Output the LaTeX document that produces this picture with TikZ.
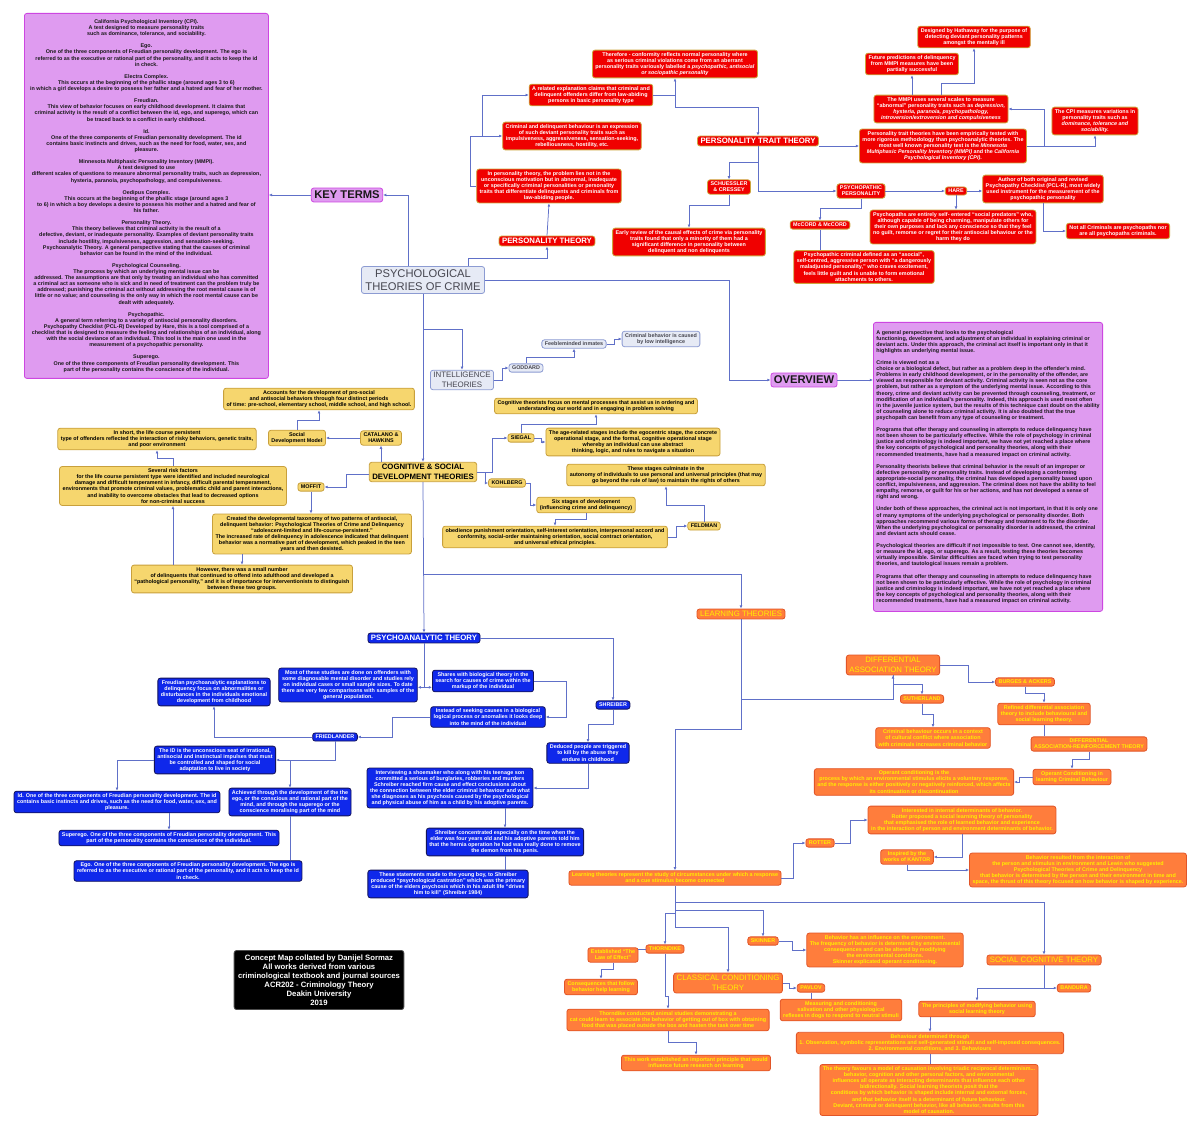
\documentclass[tikz,border=0pt]{standalone}
\usepackage{fontspec}
\setmainfont{Liberation Sans}
\usetikzlibrary{arrows.meta}

\definecolor{linkblue}{RGB}{96,112,200}
\definecolor{violetfill}{RGB}{223,155,240}
\definecolor{violetedge}{RGB}{205,70,225}
\definecolor{redfill}{RGB}{240,0,0}
\definecolor{rededge}{RGB}{205,165,60}
\definecolor{yellowfill}{RGB}{246,214,110}
\definecolor{yellowedge}{RGB}{200,160,60}
\definecolor{bluefill}{RGB}{15,40,235}
\definecolor{blueedge}{RGB}{20,20,90}
\definecolor{orangefill}{RGB}{255,125,60}
\definecolor{orangeedge}{RGB}{225,85,40}
\definecolor{orangetext}{RGB}{255,238,0}
\definecolor{greyfill}{RGB}{230,234,245}
\definecolor{greyedge}{RGB}{140,155,210}
\definecolor{greytext}{RGB}{70,70,80}

\newcommand{\mapsmall}{\fontsize{5.4}{6.1}\selectfont\bfseries}
\newcommand{\maptitle}{\fontsize{7.8}{9.5}\selectfont\bfseries}

\begin{document}
\begin{tikzpicture}[x=1pt, y=-1pt,
        mapbox/.style={rectangle, rounded corners=2.5pt, line width=0.8pt, align=center, inner xsep=3pt, inner ysep=2.2pt, font=\mapsmall},
        redbox/.style={mapbox, fill=redfill, draw=rededge, text=white},
        redtitle/.style={redbox, font=\maptitle},
        yellowbox/.style={mapbox, fill=yellowfill, draw=yellowedge, text=black},
        yellowtitle/.style={yellowbox, font=\maptitle},
        bluebox/.style={mapbox, fill=bluefill, draw=blueedge, text=white},
        bluetitle/.style={bluebox, font=\maptitle},
        orangebox/.style={mapbox, fill=orangefill, draw=orangeedge, text=orangetext},
        orangetitle/.style={orangebox, font=\fontsize{7.8}{10}\selectfont},
        greybox/.style={mapbox, fill=greyfill, draw=greyedge, text=greytext},
        greytitle/.style={greybox, font=\fontsize{7.9}{9.5}\selectfont},
        violetbox/.style={mapbox, fill=violetfill, draw=violetedge, text=black!90},
        violettitle/.style={violetbox, font=\fontsize{11.2}{12}\selectfont\bfseries, inner ysep=3pt},
        creditbox/.style={mapbox, fill=black, draw=black!70, text=white, font=\fontsize{7.7}{9.1}\selectfont\bfseries, inner xsep=4pt, inner ysep=4pt},
        conn/.style={-{Latex[length=3.2pt,width=2.8pt]}, draw=linkblue, line width=0.75pt},
        link/.style={draw=linkblue, line width=0.75pt}
    ]
        \useasboundingbox (0,0) rectangle (1200,1131);
        \fill[white] (0,0) rectangle (1200,1131);

        % Main node and key terms
        \node[greybox, font=\fontsize{11.2}{13}\selectfont, inner xsep=4pt, inner ysep=3pt] (main) at (423,280) {PSYCHOLOGICAL\\THEORIES OF CRIME};
        \node[violettitle] (keyterms) at (347,195) {KEY TERMS};
        \node[violetbox, anchor=north west, minimum width=244pt, minimum height=365pt] (keybox) at (24,13) {California Psychological Inventory (CPI).\\
A test designed to measure personality traits\\
such as dominance, tolerance, and sociability.\\[6.1pt]
Ego.\\
One of the three components of Freudian personality development. The ego is\\
referred to as the executive or rational part of the personality, and it acts to keep the id\\
in check.\\[6.1pt]
Electra Complex.\\
This occurs at the beginning of the phallic stage (around ages 3 to 6)\\
in which a girl develops a desire to possess her father and a hatred and fear of her mother.\\[6.1pt]
Freudian.\\
This view of behavior focuses on early childhood development. It claims that\\
criminal activity is the result of a conflict between the id, ego, and superego, which can\\
be traced back to a conflict in early childhood.\\[6.1pt]
Id.\\
One of the three components of Freudian personality development. The id\\
contains basic instincts and drives, such as the need for food, water, sex, and\\
pleasure.\\[6.1pt]
Minnesota Multiphasic Personality Inventory (MMPI).\\
A test designed to use\\
different scales of questions to measure abnormal personality traits, such as depression,\\
hysteria, paranoia, psychopathology, and compulsiveness.\\[6.1pt]
Oedipus Complex.\\
This occurs at the beginning of the phallic stage (around ages 3\\
to 6) in which a boy develops a desire to possess his mother and a hatred and fear of\\
his father.\\[6.1pt]
Personality Theory.\\
This theory believes that criminal activity is the result of a\\
defective, deviant, or inadequate personality. Examples of deviant personality traits\\
include hostility, impulsiveness, aggression, and sensation-seeking.\\
Psychoanalytic Theory. A general perspective stating that the causes of criminal\\
behavior can be found in the mind of the individual.\\[6.1pt]
Psychological Counseling.\\
The process by which an underlying mental issue can be\\
addressed. The assumptions are that only by treating an individual who has committed\\
a criminal act as someone who is sick and in need of treatment can the problem truly be\\
addressed; punishing the criminal act without addressing the root mental cause is of\\
little or no value; and counseling is the only way in which the root mental cause can be\\
dealt with adequately.\\[6.1pt]
Psychopathic.\\
A general term referring to a variety of antisocial personality disorders.\\
Psychopathy Checklist (PCL-R) Developed by Hare, this is a tool comprised of a\\
checklist that is designed to measure the feeling and relationships of an individual, along\\
with the social deviance of an individual. This tool is the main one used in the\\
measurement of a psychopathic personality.\\[6.1pt]
Superego.\\
One of the three components of Freudian personality development. This\\
part of the personality contains the conscience of the individual.};

        % Personality theory
        \node[redbox] (therefore) at (675,64) {Therefore - conformity reflects normal personality where\\as serious criminal violations come from an aberrant\\personality traits variously labelled a \textit{psychopathic, antisocial}\\\textit{or sociopathic personality}};
        \node[redbox] (related) at (591,95) {A related explanation claims that criminal and\\delinquent offenders differ from law-abiding\\persons in basic personality type};
        \node[redbox] (express) at (572,136) {Criminal and delinquent behaviour is an expression\\of such deviant personality traits such as\\impulsiveness, aggressiveness, sensation-seeking,\\rebelliousness, hostility, etc.};
        \node[redbox] (problem) at (549,186) {In personality theory, the problem lies not in the\\unconscious motivation but in abnormal, inadequate\\or specifically criminal personalities or personality\\traits that differentiate delinquents and criminals from\\law-abiding people.};
        \node[redtitle] (pttheory) at (547,241) {PERSONALITY THEORY};
        \node[redtitle] (ptt) at (758,141) {PERSONALITY TRAIT THEORY};
        \node[redbox] (schuessler) at (729,187) {SCHUESSLER\\\& CRESSEY};
        \node[redbox] (early) at (689,242) {Early review of the causal effects of crime via personality\\traits found that only a minority of them had a\\significant difference in personality between\\delinquent and non delinquents};
        \node[redbox] (hathaway) at (974,37) {Designed by Hathaway for the purpose of\\detecting deviant personality patterns\\amongst the mentally ill};
        \node[redbox] (future) at (912,64) {Future predictions of delinquency\\from MMPI measures have been\\partially successful};
        \node[redbox] (mmpi) at (941,109) {The MMPI uses several scales to measure\\``abnormal'' personality traits such as \textit{depression,}\\\textit{hysteria, paranoia, psychopathology,}\\\textit{introversion/extroversion and compulsiveness}};
        \node[redbox] (cpi) at (1095,121) {The CPI measures variations in\\personality traits such as\\\textit{dominance, tolerance and}\\\textit{sociability.}};
        \node[redbox] (tested) at (943,146) {Personality trait theories have been empirically tested with\\more rigorous methodology than psychoanalytic theories. The\\most well known personality test is the \textit{Minnesota}\\\textit{Multiphasic Personality Inventory (MMPI)} and the \textit{California}\\\textit{Psychological Inventory (CPI)}.};
        \node[redbox] (psycho) at (861,191) {PSYCHOPATHIC\\PERSONALITY};
        \node[redbox] (hare) at (956,191) {HARE};
        \node[redbox] (author) at (1043,189) {Author of both original and revised\\Psychopathy Checklist (PCL-R), most widely\\used instrument for the measurement of the\\psychopathic personality};
        \node[redbox] (predators) at (953,227) {Psychopaths are entirely self- entered ``social predators'' who,\\although capable of being charming, manipulate others for\\their own purposes and lack any conscience so that they feel\\no guilt, remorse or regret for their antisocial behaviour or the\\harm they do};
        \node[redbox] (notall) at (1118,231) {Not all Criminals are psychopaths nor\\are all psychopaths criminals.};
        \node[redbox] (mccord) at (820,225) {McCORD \& McCORD};
        \node[redbox] (asocial) at (864,267) {Psychopathic criminal defined as an ``asocial'',\\self-centred, aggressive person with ``a dangerously\\maladjusted personality,'' who craves excitement,\\feels little guilt and is unable to form emotional\\attachments to others.};

        % Intelligence theories
        \node[greytitle] (intel) at (462,380) {INTELLIGENCE\\THEORIES};
        \node[greybox] (goddard) at (526,368) {GODDARD};
        \node[greybox] (feeble) at (574,344) {Feebleminded inmates};
        \node[greybox] (lowint) at (661,339) {Criminal behavior is caused\\by low intelligence};

        % Cognitive and social development
        \node[yellowtitle] (cog) at (423,472) {COGNITIVE \& SOCIAL\\DEVELOPMENT THEORIES};
        \node[yellowbox] (siegal) at (521,438) {SIEGAL};
        \node[yellowbox] (cogfocus) at (596,406) {Cognitive theorists focus on mental processes that assist us in ordering and\\understanding our world and in engaging in problem solving};
        \node[yellowbox] (agestages) at (633,442) {The age-related stages include the egocentric stage, the concrete\\operational stage, and the formal, cognitive operational stage\\whereby an individual can use abstract\\thinking, logic, and rules to navigate a situation};
        \node[yellowbox] (kohlberg) at (507,483) {KOHLBERG};
        \node[yellowbox] (sixstages) at (586,505) {Six stages of development\\(influencing crime and delinquency)};
        \node[yellowbox] (obedience) at (555,537) {obedience punishment orientation, self-interest orientation, interpersonal accord and\\conformity, social-order maintaining orientation, social contract orientation,\\and universal ethical principles.};
        \node[yellowbox] (feldman) at (704,526) {FELDMAN};
        \node[yellowbox] (culminate) at (666,475) {These stages culminate in the\\autonomy of individuals to use personal and universal principles (that may\\go beyond the rule of law) to maintain the rights of others};
        \node[yellowbox] (catalano) at (381,438) {CATALANO \&\\HAWKINS};
        \node[yellowbox] (socdev) at (297,438) {Social\\Development Model};
        \node[yellowbox] (accounts) at (319,399) {Accounts for the development of pro-social\\and antisocial behaviors through four distinct periods\\of time: pre-school, elementary school, middle school, and high school.};
        \node[yellowbox] (moffit) at (311,487) {MOFFIT};
        \node[yellowbox] (created) at (312,534) {Created the developmental taxonomy of two patterns of antisocial,\\delinquent behavior: Psychological Theories of Crime and Delinquency\\``adolescent-limited and life-course-persistent.''\\The increased rate of delinquency in adolescence indicated that delinquent\\behavior was a normative part of development, which peaked in the teen\\years and then desisted.};
        \node[yellowbox] (however) at (242,579) {However, there was a small number\\of delinquents that continued to offend into adulthood and developed a\\``pathological personality,'' and it is of importance for interventionists to distinguish\\between these two groups.};
        \node[yellowbox] (risk) at (173,486) {Several risk factors\\for the life course persistent type were identified and included neurological\\damage and difficult temperament in infancy, difficult parental temperament,\\environments that promote criminal values, problematic child and parent interactions,\\and inability to overcome obstacles that lead to decreased options\\for non-criminal success};
        \node[yellowbox] (inshort) at (157,439) {In short, the life course persistent\\type of offenders reflected the interaction of risky behaviors, genetic traits,\\and poor environment};

        % Overview
        \node[violettitle] (overview) at (804,380) {OVERVIEW};
        \node[violetbox, align=left, anchor=north west, minimum height=289pt] (ovbox) at (873,322) {A general perspective that looks to the psychological\\
functioning, development, and adjustment of an individual in explaining criminal or\\
deviant acts. Under this approach, the criminal act itself is important only in that it\\
highlights an underlying mental issue.\\[6.1pt]
Crime is viewed not as a\\
choice or a biological defect, but rather as a problem deep in the offender's mind.\\
Problems in early childhood development, or in the personality of the offender, are\\
viewed as responsible for deviant activity. Criminal activity is seen not as the core\\
problem, but rather as a symptom of the underlying mental issue. According to this\\
theory, crime and deviant activity can be prevented through counseling, treatment, or\\
modification of an individual's personality. Indeed, this approach is used most often\\
in the juvenile justice system, but the results of this technique cast doubt on the ability\\
of counseling alone to reduce criminal activity. It is also doubted that the true\\
psychopath can benefit from any type of counseling or treatment.\\[6.1pt]
Programs that offer therapy and counseling in attempts to reduce delinquency have\\
not been shown to be particularly effective. While the role of psychology in criminal\\
justice and criminology is indeed important, we have not yet reached a place where\\
the key concepts of psychological and personality theories, along with their\\
recommended treatments, have had a measured impact on criminal activity.\\[6.1pt]
Personality theorists believe that criminal behavior is the result of an improper or\\
defective personality or personality traits. Instead of developing a conforming\\
appropriate-social personality, the criminal has developed a personality based upon\\
conflict, impulsiveness, and aggression. The criminal does not have the ability to feel\\
empathy, remorse, or guilt for his or her actions, and has not developed a sense of\\
right and wrong.\\[6.1pt]
Under both of these approaches, the criminal act is not important, in that it is only one\\
of many symptoms of the underlying psychological or personality disorder. Both\\
approaches recommend various forms of therapy and treatment to fix the disorder.\\
When the underlying psychological or personality disorder is addressed, the criminal\\
and deviant acts should cease.\\[6.1pt]
Psychological theories are difficult if not impossible to test. One cannot see, identify,\\
or measure the id, ego, or superego. As a result, testing these theories becomes\\
virtually impossible. Similar difficulties are faced when trying to test personality\\
theories, and tautological issues remain a problem.\\[6.1pt]
Programs that offer therapy and counseling in attempts to reduce delinquency have\\
not been shown to be particularly effective. While the role of psychology in criminal\\
justice and criminology is indeed important, we have not yet reached a place where\\
the key concepts of psychological and personality theories, along with their\\
recommended treatments, have had a measured impact on criminal activity.};

        % Psychoanalytic theory
        \node[bluetitle] (psa) at (424,638) {PSYCHOANALYTIC THEORY};
        \node[bluebox] (most) at (348,685) {Most of these studies are done on offenders with\\some diagnosable mental disorder and studies rely\\on individual cases or small sample sizes. To date\\there are very few comparisons with samples of the\\general population.};
        \node[bluebox] (shares) at (483,681) {Shares with biological theory in the\\search for causes of crime within the\\markup of the individual};
        \node[bluebox] (instead) at (488,717) {Instead of seeking causes in a biological\\logical process or anomalies it looks deep\\into the mind of the individual};
        \node[bluebox] (friedlander) at (335,737) {FRIEDLANDER};
        \node[bluebox] (freudian) at (214,692) {Freudian psychoanalytic explanations to\\delinquency focus on abnormalities or\\disturbances in the individuals emotional\\development from childhood};
        \node[bluebox] (idseat) at (215,760) {The ID is the unconscious seat of irrational,\\antisocial and instinctual impulses that must\\be controlled and shaped for social\\adaptation to live in society};
        \node[bluebox] (achieved) at (290,802) {Achieved through the development of the the\\ego, or the conscious and rational part of the\\mind, and through the superego or the\\conscience moralising part of the mind};
        \node[bluebox] (idbox) at (117,802) {Id. One of the three components of Freudian personality development. The id\\contains basic instincts and drives, such as the need for food, water, sex, and\\pleasure.};
        \node[bluebox] (superego) at (169,838) {Superego. One of the three components of Freudian personality development. This\\part of the personality contains the conscience of the individual.};
        \node[bluebox] (egobox) at (188,871) {Ego. One of the three components of Freudian personality development. The ego is\\referred to as the executive or rational part of the personality, and it acts to keep the id\\in check.};
        \node[bluebox] (shreiber) at (613,705) {SHREIBER};
        \node[bluebox] (deduced) at (588,753) {Deduced people are triggered\\to kill by the abuse they\\endure in childhood};
        \node[bluebox] (interview) at (450,788) {Interviewing a shoemaker who along with his teenage son\\committed a serious of burglaries, robberies and murders\\Schreiber reached firm cause and effect conclusions about\\the connection between the elder criminal behaviour and what\\she diagnoses as his psychosis caused by the psychological\\and physical abuse of him as a child by his adoptive parents.};
        \node[bluebox] (shreiber2) at (505,842) {Shreiber concentrated especially on the time when the\\elder was four years old and his adoptive parents told him\\that the hernia operation he had was really done to remove\\the demon from his penis.};
        \node[bluebox] (statements) at (448,884) {These statements made to the young boy, to Shreiber\\produced ``psychological castration'' which was the primary\\cause of the elders psychosis which in his adult life ``drives\\him to kill'' (Shreiber 1984)};

        % Learning theories
        \node[orangetitle] (lt) at (741,614) {LEARNING THEORIES};
        \node[orangetitle] (dat) at (893,665) {DIFFERENTIAL\\ASSOCIATION THEORY};
        \node[orangebox] (sutherland) at (922,699) {SUTHERLAND};
        \node[orangebox] (crimctx) at (933,738) {Criminal behaviour occurs in a context\\of cultural conflict where association\\with criminals increases criminal behavior};
        \node[orangebox] (burges) at (1025,682) {BURGES \& ACKERS};
        \node[orangebox] (refined) at (1044,714) {Refined differential association\\theory to include behavioural and\\social learning theory.};
        \node[orangebox] (dart) at (1089,744) {DIFFERENTIAL\\ASSOCIATION-REINFORCEMENT THEORY};
        \node[orangebox] (opcl) at (1072,777) {Operant Conditioning in\\learning Criminal Behaviour};
        \node[orangebox] (operant) at (914,782) {Operant conditioning is the\\process by which an environmental stimulus elicits a voluntary response,\\and the response is either positively or negatively reinforced, which affects\\its continuation or discontinuation};
        \node[orangebox] (rotter) at (820,843) {ROTTER};
        \node[orangebox] (interested) at (962,820) {Interested in internal determinants of behavior.\\Rotter proposed a social learning theory of personality\\that emphasised the role of learned behavior and experience\\in the interaction of person and environment determinants of behavior.};
        \node[orangebox] (kantor) at (907,857) {Inspired by the\\works of KANTOR};
        \node[orangebox] (resulted) at (1078,870) {Behavior resulted from the interaction of\\the person and stimulus in environment and Lewin who suggested\\Psychological Theories of Crime and Delinquency\\that behavior is determined by the person and their environment in time and\\space, the thrust of this theory focused on how behavior is shaped by experience.};
        \node[orangebox] (lrep) at (675,878) {Learning theories represent the study of circumstances under which a response\\and a cue stimulus become connected};
        \node[orangebox] (thorndike) at (665,949) {THORNDIKE};
        \node[orangebox] (law) at (613,955) {Established ``The\\Law of Effect''};
        \node[orangebox] (consequences) at (601,987) {Consequences that follow\\behavior help learning};
        \node[orangebox] (cat) at (668,1020) {Thorndike conducted animal studies demonstrating a\\cat could learn to associate the behavior of getting out of box with obtaining\\food that was placed outside the box and hasten the task over time};
        \node[orangebox] (thiswork) at (696,1063) {This work established an important principle that would\\influence future research on learning};
        \node[orangetitle] (classical) at (728,983) {CLASSICAL CONDITIONING\\THEORY};
        \node[orangebox] (pavlov) at (811,988) {PAVLOV};
        \node[orangebox] (measuring) at (841,1010) {Measuring and conditioning\\salivation and other physiological\\reflexes in dogs to respond to neutral stimuli};
        \node[orangebox] (skinner) at (763,941) {SKINNER};
        \node[orangebox] (skinnertxt) at (885,950) {Behavior has an influence on the environment.\\The frequency of behavior is determined by environmental\\consequences and can be altered by modifying\\the environmental conditions.\\Skinner explicated operant conditioning.};
        \node[orangetitle] (sct) at (1044,960) {SOCIAL COGNITIVE THEORY};
        \node[orangebox] (bandura) at (1074,988) {BANDURA};
        \node[orangebox] (principles) at (977,1009) {The principles of modifying behavior using\\social learning theory};
        \node[orangebox] (behdet) at (930,1043) {Behaviour determined through\\1. Observation, symbolic representations and self-generated stimuli and self-imposed consequences.\\2. Environmental conditions, and 3. Behaviours};
        \node[orangebox] (triadic) at (929,1090) {The theory favours a model of causation involving triadic reciprocal determinism...\\behavior, cognition and other personal factors, and environmental\\influences all operate as interacting determinants that influence each other\\bidirectionally. Social learning theorists posit that the\\conditions by which behavior is shaped include internal and external forces,\\and that behavior itself is a determinant of future behaviour.\\Deviant, criminal or delinquent behavior, like all behavior, results from this\\model of causation.};

        % Credit
        \node[creditbox] (credit) at (319,980) {Concept Map collated by Danijel Sormaz\\All works derived from various\\criminological textbook and journal sources\\ACR202 - Criminology Theory\\Deakin University\\2019};

        % Paths: main branches
        \draw[conn] ([xshift=-15pt]main.north) |- (keyterms.east);
        \draw[conn] (keyterms.west) -- (keyterms.west -| keybox.east);
        \draw[conn] ([xshift=45pt]main.north) -- ++(0,-8) -| (pttheory.south);
        \draw[conn] (main.east) -- ++(244,0) |- (overview.west);
        \draw[conn] (overview.east) -- (overview.east -| ovbox.west);
        \draw[conn] (main.south) -- (cog.north);
        \draw[conn] (main.south) ++(0,36) -| (intel.north);
        \draw[conn] (cog.south) -- (psa.north);
        \draw[conn] (cog.south) ++(0,92) -| (lt.north);

        % Paths: personality
        \draw[conn] (pttheory.north) -- (problem.south);
        \draw[conn] (problem.west) -- ++(-6,0) |- (express.west);
        \draw[conn] (problem.west) ++(6,-50) |- (related.west);
        \draw[conn] (related.east) -| (therefore.south);
        \draw[conn] (related.east) ++(22,0) -- ++(0,12) -| (ptt.north);
        \draw[conn] (ptt.south) -- ++(0,16) -| (schuessler.north);
        \draw[conn] (ptt.south) |- (psycho.west);
        \draw[conn] (schuessler.south) -- ++(0,11) -| (early.north);
        \draw[conn] (ptt.east |- tested.west) -- (tested.west);
        \draw[conn] (tested.east) -| (cpi.south);
        \draw[conn] (tested.east) ++(17,0) |- (mmpi.east);
        \draw[conn] (future.south |- mmpi.north) -- (future.south);
        \draw[conn] (mmpi.north) -- ++(0,-11) -| (hathaway.south);
        \draw[conn] (psycho.east) -- (psycho.east -| hare.west);
        \draw[conn] (hare.east) -- (hare.east -| author.west);
        \draw[conn] (hare.south) -- (hare.south |- predators.north);
        \draw[conn] (author.south) |- (notall.west);
        \draw[conn] (psycho.south) -- ++(0,10) -| (mccord.north);
        \draw[link] (mccord.south) -- (mccord.south |- asocial.north);

        % Paths: intelligence
        \draw[conn] (intel.east) -- ++(8,0) |- (goddard.west);
        \draw[conn] (goddard.north) -- ++(0,-6) -| (feeble.south);
        \draw[conn] (feeble.east) -- ++(8,0) |- (lowint.west);

        % Paths: cognitive
        \draw[conn] (cog.east) -- ++(15,0) |- (siegal.west);
        \draw[conn] (cog.east) -- ++(8,0) |- (kohlberg.west);
        \draw[conn] (siegal.north) -- ++(0,-9) -| (cogfocus.south);
        \draw[conn] (siegal.east) -- ++(7,0) |- (agestages.west);
        \draw[conn] (kohlberg.east) -- ++(5,0) |- (sixstages.west);
        \draw[conn] (sixstages.south) -- ++(0,6) -| (obedience.north);
        \draw[conn] (obedience.east) -- ++(9,0) |- (feldman.west);
        \draw[conn] (feldman.north) -- ++(0,-16) -| (culminate.south);
        \draw[conn] (catalano.south |- cog.north) -- (catalano.south);
        \draw[conn] (catalano.west) -- (catalano.west -| socdev.east);
        \draw[conn] (socdev.north) -- ++(0,-9) -| (accounts.south);
        \draw[conn] ([yshift=-2pt]cog.west) -- ++(-23,0) |- (moffit.east);
        \draw[conn] (moffit.south) -- (moffit.south |- created.north);
        \draw[conn] (created.south -| however.north) -- (however.north);
        \draw[conn] (however.north -| risk.south) -- (risk.south);
        \draw[conn] (risk.north) -- ++(0,-8) -| (inshort.south);

        % Paths: psychoanalytic
        \draw[conn] (psa.east) -| (shreiber.north);
        \draw[link] (psa.south) -- ++(0,44) coordinate (pj);
        \draw[conn] (pj) -- (pj -| most.east);
        \draw[conn] (pj) -- (pj -| shares.west);
        \draw[conn] (shares.east) -- ++(32,0) |- (instead.east);
        \draw[conn] (instead.west) -- ++(-38,0) |- (friedlander.east);
        \draw[conn] (friedlander.west) -| (freudian.south);
        \draw[conn] (friedlander.south) |- (idseat.east);
        \draw[conn] (achieved.north |- idseat.east) -- (achieved.north);
        \draw[conn] (idseat.west) -| (idbox.north);
        \draw[conn] (superego.north |- idbox.south) -- (superego.north);
        \draw[link] (achieved.south) -- (achieved.south |- egobox.north);
        \draw[conn] (shreiber.south) -- ++(0,15) -| (deduced.north);
        \draw[conn] (deduced.south) |- (interview.east);
        \draw[conn] (shreiber2.north |- interview.south) -- (shreiber2.north);
        \draw[link] (shreiber2.south) -- (shreiber2.south |- statements.north);

        % Paths: learning
        \draw[conn] (lt.south) -- (lt.south |- sutherland.center) -| (dat.south);
        \draw[conn] (lt.south) -- ++(0,110) -| (lrep.north);
        \draw[conn] (dat.south) -- ++(0,9) -| (sutherland.north);
        \draw[conn] (sutherland.south) -- ++(0,11) -| (crimctx.north);
        \draw[conn] (dat.east) -- ++(28,0) |- (burges.west);
        \draw[conn] (burges.south) -- ++(0,7) -| (refined.north);
        \draw[link] (refined.south) -- (refined.south |- dart.north);
        \draw[conn] (dart.south) -- ++(0,8) -| (opcl.north);
        \draw[conn] (opcl.west) -- ++(-13,0) |- (operant.east);
        \draw[conn] (lrep.east) -- ++(12,0) |- (rotter.west);
        \draw[conn] (rotter.east) -- ++(16,0) |- (interested.west);
        \draw[conn] (interested.south) |- (kantor.east);
        \draw[conn] (kantor.south) |- (resulted.west);
        \draw[link] (lrep.south) -- ++(0,42);
        \draw[conn] (lrep.south) ++(0,17) -| (sct.north);
        \draw[conn] (lrep.south) ++(0,25) -| (skinner.north);
        \draw[conn] (lrep.south) ++(0,28) -| (thorndike.north);
        \draw[conn] (lrep.south) ++(0,42) -| (classical.north);
        \draw[link] (thorndike.west) -- (thorndike.west -| law.east);
        \draw[conn] (law.south) -- ++(0,7) -| (consequences.north);
        \draw[conn] (thorndike.south) -- ++(0,43) -| (cat.north);
        \draw[conn] (cat.south) -- ++(0,11) -| (thiswork.north);
        \draw[conn] (skinner.east) -- ++(14,0) |- (skinnertxt.west);
        \draw[conn] (classical.east) -- ++(7,0) |- (pavlov.west);
        \draw[link] (pavlov.south) -- (pavlov.south |- measuring.north);
        \draw[conn] (sct.south) |- (bandura.west);
        \draw[conn] (sct.south |- bandura.west) -| (principles.north);
        \draw[conn] (principles.south -| behdet.north) -- (behdet.north);
        \draw[link] (behdet.south) -- (behdet.south |- triadic.north);
    \end{tikzpicture}
\end{document}
